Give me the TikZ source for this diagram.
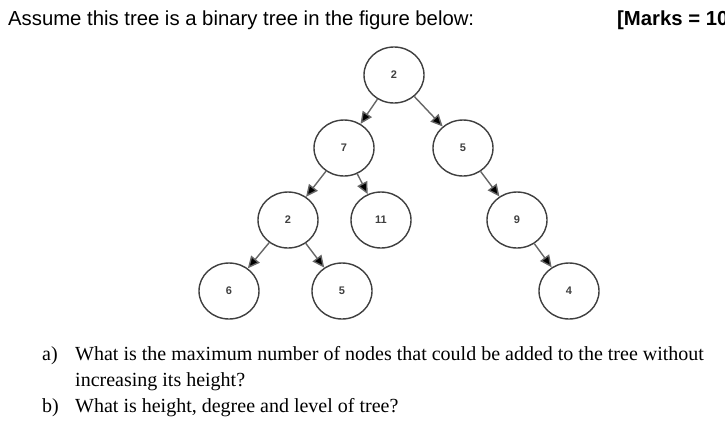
\documentclass[tikz,border=0pt]{standalone}
\usepackage{fontspec}
\setmainfont{Liberation Serif}
\newfontfamily\arialf{Liberation Sans}
\usetikzlibrary{shapes.geometric,arrows.meta}
\begin{document}
\begin{tikzpicture}[x=1pt,y=-1pt,
  tn/.style={ellipse,draw=black!75,line width=1.4pt,minimum width=60pt,minimum height=56pt,inner sep=0pt,font=\arialf\fontsize{11}{12}\selectfont\bfseries,text=black!75},
  ed/.style={draw=black!60,line width=1.4pt,-{Triangle[length=12pt,width=11pt,fill=black]}},
  q/.style={anchor=base west,font=\fontsize{20}{24}\selectfont,inner sep=0pt}]
\useasboundingbox (0,0) rectangle (725,434);
\node[anchor=base west,inner sep=0pt,font=\arialf\fontsize{20.3}{24}\selectfont] (t) at (8,25) {Assume this tree is a binary tree in the figure below:};
\node[anchor=base west,inner sep=0pt,font=\arialf\fontsize{20.3}{24}\selectfont\bfseries] (m) at (617,25) {[Marks = 10};
\node[tn] (r) at (394,75) {2};
\node[tn] (a) at (344,148) {7};
\node[tn] (b) at (463,148) {5};
\node[tn] (c) at (288,220) {2};
\node[tn] (d) at (381,220) {11};
\node[tn] (e) at (517,220) {9};
\node[tn] (f) at (229,291) {6};
\node[tn] (g) at (342,291) {5};
\node[tn] (h) at (569,291) {4};
\draw[ed] (r) -- (a);
\draw[ed] (r) -- (b);
\draw[ed] (a) -- (c);
\draw[ed] (a) -- (d);
\draw[ed] (b) -- (e);
\draw[ed] (c) -- (f);
\draw[ed] (c) -- (g);
\draw[ed] (e) -- (h);
\node[q] (qa) at (42,360) {a)};
\node[q] (qa1) at (75,360) {What is the maximum number of nodes that could be added to the tree without};
\node[q] (qa2) at (75,386) {increasing its height?};
\node[q] (qb) at (42,412) {b)};
\node[q] (qb1) at (75,412) {What is height, degree and level of tree?};
\end{tikzpicture}
\end{document}
